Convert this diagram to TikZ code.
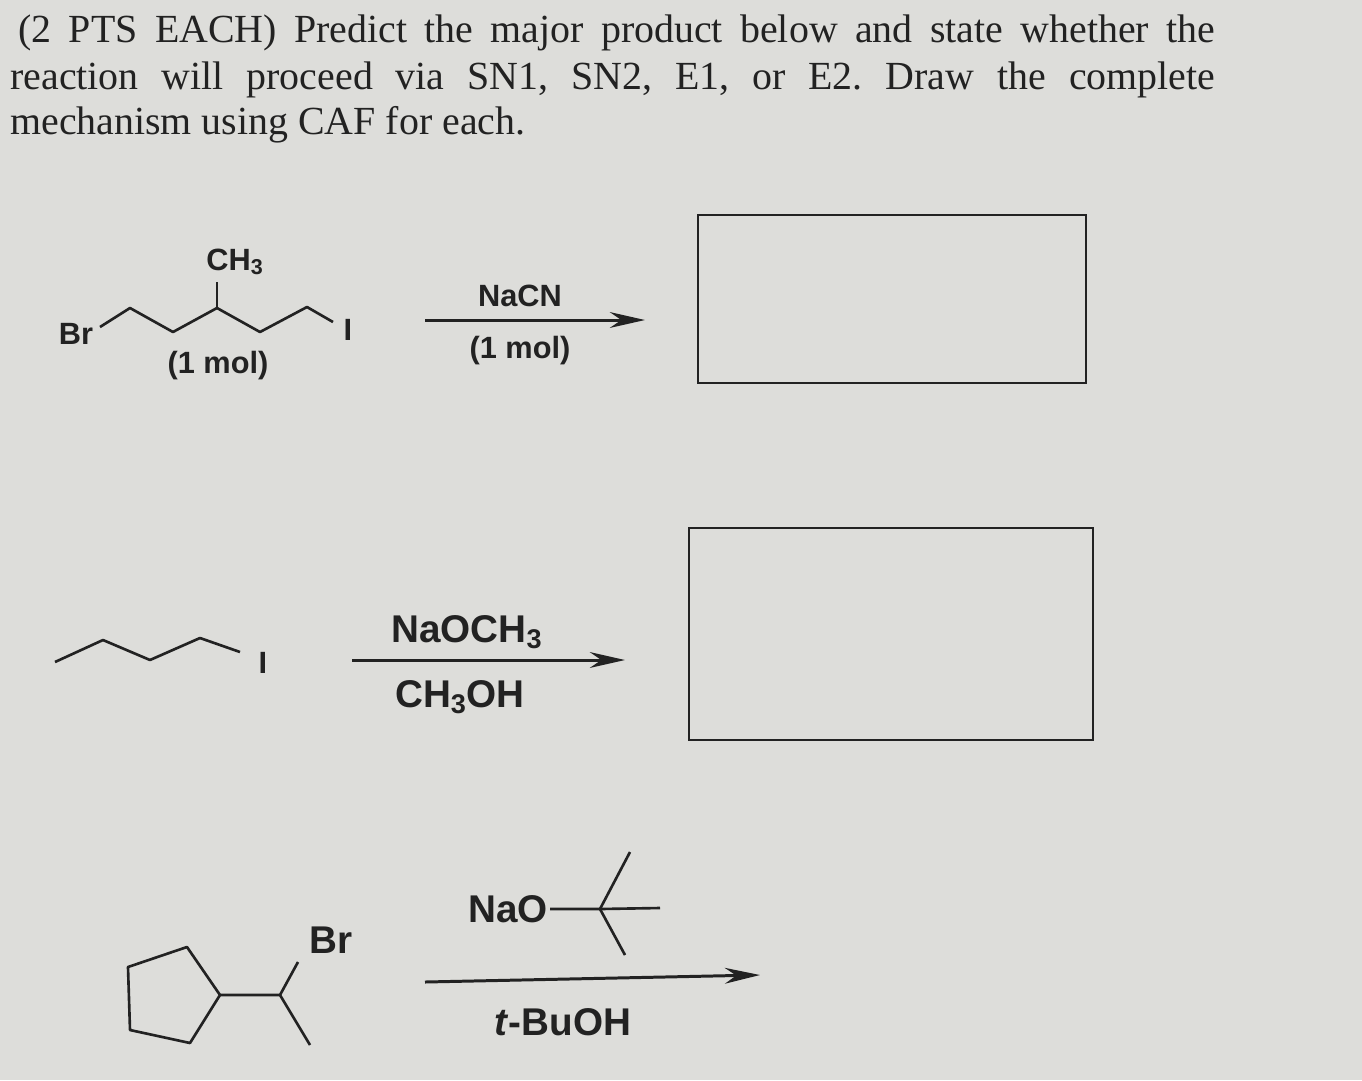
\documentclass[tikz,border=0pt]{standalone}
\usepackage{fontspec}
\setmainfont{Liberation Serif}
\setsansfont{Liberation Sans}
\usetikzlibrary{arrows.meta}
\definecolor{bg}{HTML}{DDDDDA}
\definecolor{ink}{HTML}{222222}
\frenchspacing
\begin{document}
\begin{tikzpicture}[x=0.02cm,y=-0.02cm,
  bond/.style={draw=ink,line width=1.5pt,line join=round},
  rarrow/.style={draw=ink,line width=1.7pt,-{Stealth[length=20pt,width=9pt]}},
  title/.style={anchor=west,inner sep=0,font=\fontsize{22.7}{26}\selectfont,text=ink},
  lab/.style={inner sep=0,font=\sffamily\bfseries\fontsize{17.5}{20}\selectfont,text=ink},
  labb/.style={inner sep=0,font=\sffamily\bfseries\fontsize{22}{26}\selectfont,text=ink},
  box/.style={draw=ink,line width=1.6pt}]
\fill[bg] (0,0) rectangle (1362,1080);
\useasboundingbox (0,0) rectangle (1362,1080);
% title
\node[title] (t1) at (18,33) {\makebox[23.94cm][s]{(2 PTS EACH) Predict the major product below and state whether the}};
\node[title] (t2) at (10,80) {\makebox[24.1cm][s]{reaction will proceed via SN1, SN2, E1, or E2. Draw the complete}};
\node[title] (t3) at (10,125) {mechanism using CAF for each.};
% molecule 1
\node[lab] (br1) at (76,334) {Br};
\node[lab] (i1) at (348,330) {I};
\node[lab] (ch3) at (235,262) {CH\textsubscript{3}};
\node[lab] (mol1) at (218,366) {(1 mol)};
\coordinate (a1) at (100,327); \coordinate (a2) at (130,308); \coordinate (a3) at (173,332);
\coordinate (a4) at (217,308); \coordinate (a5) at (260,332); \coordinate (a6) at (307,307);
\coordinate (a7) at (333,322); \coordinate (a8) at (217,282);
\draw[bond] (a1)--(a2)--(a3)--(a4)--(a5)--(a6)--(a7);
\draw[bond] (a4)--(a8);
% arrow 1
\coordinate (s1) at (425,320); \coordinate (e1) at (645,320);
\draw[rarrow] (s1)--(e1);
\node[lab] (r1) at (520,296) {NaCN};
\node[lab] (r2) at (520,351) {(1 mol)};
\node[box,minimum width=7.76cm,minimum height=3.36cm] (box1) at (892,299) {};
% molecule 2
\coordinate (b1) at (55,662); \coordinate (b2) at (103,640); \coordinate (b3) at (150,660);
\coordinate (b4) at (200,638); \coordinate (b5) at (240,652);
\draw[bond] (b1)--(b2)--(b3)--(b4)--(b5);
\node[lab] (i2) at (263,663) {I};
\coordinate (s2) at (352,660); \coordinate (e2) at (625,660);
\draw[rarrow] (s2)--(e2);
\node[labb] (r3) at (467,632) {NaOCH\textsubscript{3}};
\node[labb] (r4) at (460,697) {CH\textsubscript{3}OH};
\node[box,minimum width=8.08cm,minimum height=4.24cm] (box2) at (891,634) {};
% molecule 3
\coordinate (c1) at (187,947); \coordinate (c2) at (220,995); \coordinate (c3) at (190,1043);
\coordinate (c4) at (130,1030); \coordinate (c5) at (128,967);
\coordinate (c6) at (280,995); \coordinate (c7) at (298,962); \coordinate (c8) at (310,1045);
\draw[bond] (c1)--(c2)--(c3)--(c4)--(c5)--cycle;
\draw[bond] (c2)--(c6)--(c7); \draw[bond] (c6)--(c8);
\node[labb] (br3) at (331,940) {Br};
\node[labb,anchor=east] (nao) at (548,909) {NaO};
\coordinate (d0) at (550,909); \coordinate (d1) at (600,909);
\coordinate (d2) at (630,852); \coordinate (d3) at (660,908); \coordinate (d4) at (625,955);
\draw[bond] (d0)--(d1)--(d3); \draw[bond] (d2)--(d1)--(d4);
\coordinate (s3) at (425,982); \coordinate (e3) at (760,975);
\draw[rarrow] (s3)--(e3);
\node[labb] (r5) at (563,1022) {\textit{t}-BuOH};
\end{tikzpicture}
\end{document}
